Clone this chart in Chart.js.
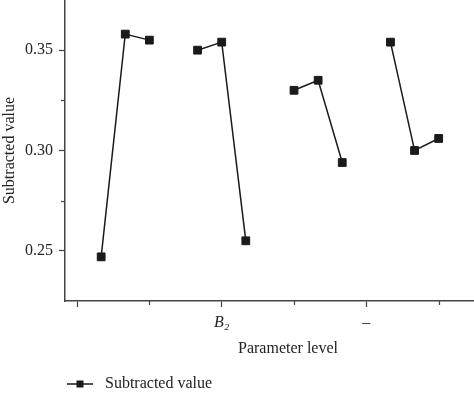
<!DOCTYPE html>
<html>
<head>
<meta charset="utf-8">
<script src="https://cdn.jsdelivr.net/npm/chart.js@4/dist/chart.umd.min.js"></script>
<style>
    html, body { margin: 0; padding: 0; background: #fff; overflow: hidden; }
    #wrap { width: 474px; height: 393px; overflow: hidden; position: relative; }
    #wrap canvas { position: absolute; left: 0; top: 0; }
</style>
</head>
<body>
<div id="wrap"><canvas id="chart" width="511" height="402"></canvas></div>
<script>
// parameter levels along the x axis, three per factor
const levels = [1, 2, 3, 5, 6, 7, 9, 10, 11, 13, 14, 15];
const values = [0.247, 0.358, 0.355, 0.350, 0.354, 0.255, 0.330, 0.335, 0.294, 0.354, 0.300, 0.306];
const groupSize = 3;
const xTickLabels = { 6: 'B₂', 12: '–' };
const yMajorTicks = [0.25, 0.30, 0.35];
const seriesName = 'Subtracted value';

document.addEventListener('DOMContentLoaded', () => {
    const ink = '#1a1a1a';
    const axisColor = '#444';

    // break the line between factor groups
    const points = [];
    levels.forEach((lv, i) => {
        points.push({ x: lv, y: values[i] });
        if ((i + 1) % groupSize === 0 && i < levels.length - 1) {
            points.push({ x: lv + 1, y: null });
        }
    });

    const isMajorY = v => yMajorTicks.some(t => Math.abs(t - v) < 1e-6);
    const isMajorX = v => Math.abs(v % 6) < 1e-6;

    // legend marker: line with a square on it
    const marker = document.createElement('canvas');
    marker.width = 30;
    marker.height = 10;
    const mctx = marker.getContext('2d');
    mctx.strokeStyle = ink;
    mctx.lineWidth = 1.5;
    mctx.beginPath();
    mctx.moveTo(0, 5);
    mctx.lineTo(26, 5);
    mctx.stroke();
    mctx.fillStyle = ink;
    mctx.fillRect(9.5, 1.5, 7, 7);

    const minorTicks = {
        id: 'minorTicks',
        afterDraw(chart) {
            const { ctx, scales: { x, y } } = chart;
            ctx.save();
            ctx.strokeStyle = axisColor;
            ctx.lineWidth = 1.2;
            x.ticks.forEach(t => {
                if (isMajorX(t.value)) return;
                const px = Math.round(x.getPixelForValue(t.value)) + 0.5;
                ctx.beginPath();
                ctx.moveTo(px, y.bottom);
                ctx.lineTo(px, y.bottom + 4);
                ctx.stroke();
            });
            y.ticks.forEach(t => {
                if (isMajorY(t.value) || t.value <= y.min + 1e-6 || t.value >= y.max - 1e-6) return;
                const py = Math.round(y.getPixelForValue(t.value)) + 0.5;
                ctx.beginPath();
                ctx.moveTo(x.left, py);
                ctx.lineTo(x.left - 4, py);
                ctx.stroke();
            });
            ctx.restore();
        }
    };

    Chart.defaults.font.family = "'Liberation Serif', 'DejaVu Serif', serif";
    Chart.defaults.font.size = 16;
    Chart.defaults.color = '#222';

    new Chart(document.getElementById('chart'), {
        type: 'line',
        data: {
            datasets: [{
                label: seriesName,
                data: points,
                borderColor: ink,
                borderWidth: 1.5,
                pointStyle: 'rect',
                pointRadius: 5.5,
                pointBackgroundColor: ink,
                pointBorderColor: ink,
                pointBorderWidth: 1,
                spanGaps: false,
                tension: 0
            }]
        },
        options: {
            responsive: false,
            devicePixelRatio: 1,
            animation: false,
            layout: { padding: 0, autoPadding: false },
            plugins: {
                tooltip: { enabled: false },
                legend: {
                    position: 'bottom',
                    align: 'start',
                    fullSize: false,
                    labels: {
                        usePointStyle: true,
                        pointStyle: marker,
                        pointStyleWidth: 30,
                        padding: 2,
                        color: '#222',
                        font: { size: 16 }
                    }
                }
            },
            scales: {
                x: {
                    type: 'linear',
                    min: -0.5,
                    max: 18,
                    afterFit: scale => {
                        scale.height = 73;
                        scale.paddingLeft = 0;
                        scale.paddingRight = 0;
                    },
                    border: { color: axisColor, width: 1.5 },
                    grid: {
                        drawOnChartArea: false,
                        tickLength: 6,
                        tickWidth: 1.2,
                        tickColor: ctx => isMajorX(ctx.tick.value) ? axisColor : 'rgba(0,0,0,0)'
                    },
                    ticks: {
                        stepSize: 3,
                        includeBounds: false,
                        autoSkip: false,
                        maxRotation: 0,
                        padding: 6,
                        color: '#222',
                        font: { size: 16, style: 'italic' },
                        callback: v => xTickLabels[v] || ''
                    },
                    title: {
                        display: true,
                        text: 'Parameter level',
                        color: '#222',
                        font: { size: 16 },
                        padding: { top: 0, bottom: 16 }
                    }
                },
                y: {
                    min: 0.225,
                    max: 0.375,
                    afterFit: scale => {
                        scale.width = 65;
                        scale.paddingTop = 0;
                        scale.paddingBottom = 0;
                    },
                    border: { color: axisColor, width: 1.5 },
                    grid: {
                        drawOnChartArea: false,
                        tickLength: 6,
                        tickWidth: 1.2,
                        tickColor: ctx => isMajorY(ctx.tick.value) ? axisColor : 'rgba(0,0,0,0)'
                    },
                    ticks: {
                        stepSize: 0.025,
                        includeBounds: false,
                        autoSkip: false,
                        padding: 6,
                        color: '#222',
                        font: { size: 16 },
                        callback: v => isMajorY(v) ? v.toFixed(2) : ''
                    },
                    title: {
                        display: true,
                        text: seriesName,
                        color: '#222',
                        font: { size: 16 },
                        padding: { top: 0, bottom: 0 }
                    }
                }
            }
        },
        plugins: [minorTicks]
    });
});
</script>
</body>
</html>
